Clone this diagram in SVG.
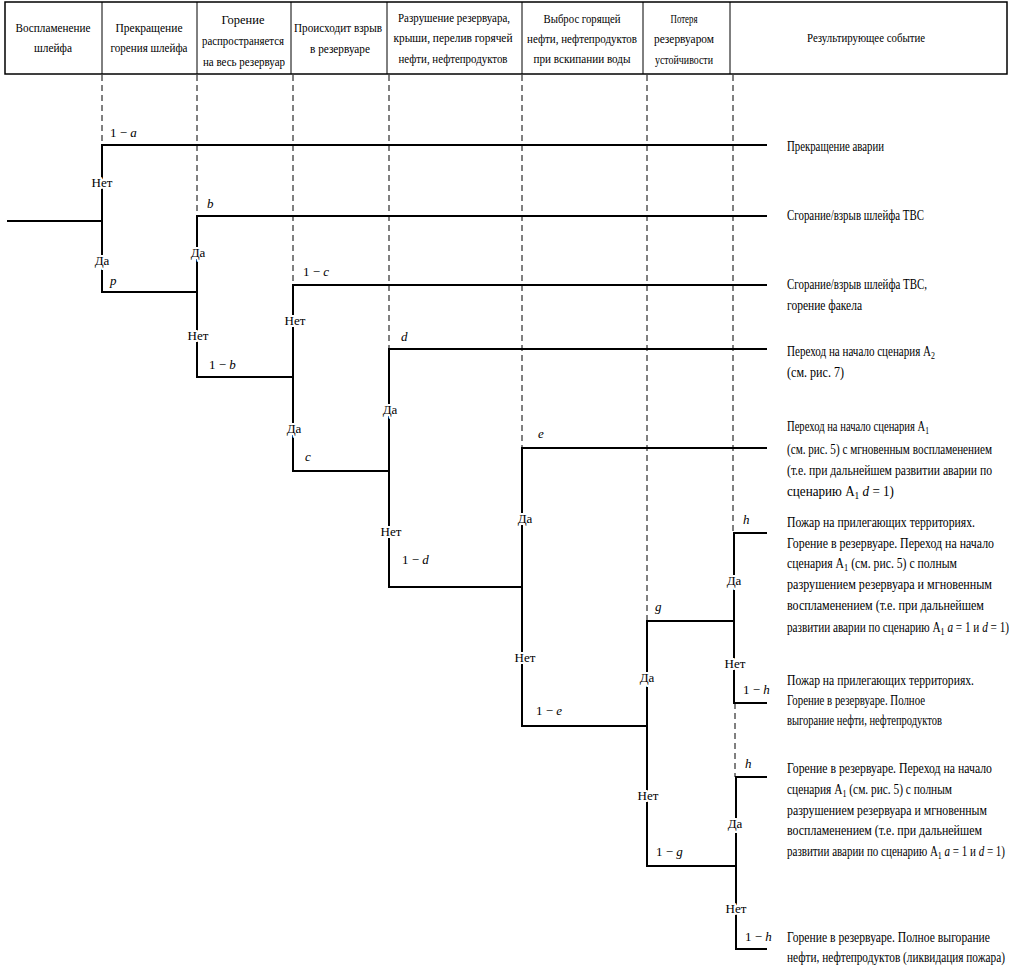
<svg xmlns="http://www.w3.org/2000/svg" width="1009" height="968" viewBox="0 0 1009 968">
<style>
text{font-family:"Liberation Serif","Times New Roman",serif;fill:#000}
.h{font-size:13px;text-anchor:middle}
.o{font-size:14px}
.lb{font-size:13px;stroke:#fff;stroke-width:4px;paint-order:stroke;stroke-linejoin:round}
.m{text-anchor:middle}
.i{font-style:italic}
.ln{stroke:#000;stroke-width:2;fill:none}
.ds{stroke:#000;stroke-width:1;stroke-dasharray:6 4;fill:none}
.hb{stroke:#000;stroke-width:1.5;fill:none}
.hd{stroke:#000;stroke-width:1;fill:none}
</style>
<rect width="1009" height="968" fill="#fff"/>
<g id="header">
<rect class="hb" x="5" y="2" width="1002" height="72"/>
<path class="hd" d="M102,2V74M197,2V74M291,2V74M387,2V74M522,2V74M643,2V74M730,2V74"/>
<g id="h1"><text class="h" x="53" y="32" textLength="75" lengthAdjust="spacingAndGlyphs">Воспламенение</text><text class="h" x="53" y="52" textLength="38" lengthAdjust="spacingAndGlyphs">шлейфа</text></g>
<g id="h2"><text class="h" x="149" y="32" textLength="67" lengthAdjust="spacingAndGlyphs">Прекращение</text><text class="h" x="149" y="52" textLength="77" lengthAdjust="spacingAndGlyphs">горения шлейфа</text></g>
<g id="h3"><text class="h" x="243" y="24" textLength="43" lengthAdjust="spacingAndGlyphs">Горение</text><text class="h" x="243" y="45" textLength="82" lengthAdjust="spacingAndGlyphs">распространяется</text><text class="h" x="244" y="66" textLength="82" lengthAdjust="spacingAndGlyphs">на весь резервуар</text></g>
<g id="h4"><text class="h" x="338" y="32" textLength="88" lengthAdjust="spacingAndGlyphs">Происходит взрыв</text><text class="h" x="340" y="53" textLength="60" lengthAdjust="spacingAndGlyphs">в резервуаре</text></g>
<g id="h5"><text class="h" x="454" y="22" textLength="112" lengthAdjust="spacingAndGlyphs">Разрушение резервуара,</text><text class="h" x="453" y="42" textLength="119" lengthAdjust="spacingAndGlyphs">крыши, перелив горячей</text><text class="h" x="453" y="63" textLength="109" lengthAdjust="spacingAndGlyphs">нефти, нефтепродуктов</text></g>
<g id="h6"><text class="h" x="582" y="23" textLength="77" lengthAdjust="spacingAndGlyphs">Выброс горящей</text><text class="h" x="582" y="43" textLength="110" lengthAdjust="spacingAndGlyphs">нефти, нефтепродуктов</text><text class="h" x="582" y="63" textLength="97" lengthAdjust="spacingAndGlyphs">при вскипании воды</text></g>
<g id="h7"><text class="h" x="684" y="23" textLength="27" lengthAdjust="spacingAndGlyphs">Потеря</text><text class="h" x="684" y="43" textLength="60" lengthAdjust="spacingAndGlyphs">резервуаром</text><text class="h" x="684" y="64" textLength="58" lengthAdjust="spacingAndGlyphs">устойчивости</text></g>
<g id="h8"><text class="h" x="866" y="42" textLength="118" lengthAdjust="spacingAndGlyphs">Результирующее событие</text></g>
</g>
<g id="connectors">
<path class="ds" d="M102,75V145M197,75V216M293,75V285M389,75V349M522,75V448M647,75V621M733,75V533M735,703V777"/>
<path class="ln" d="M7,221H102"/>
<path class="ln" d="M767,145H102V292H197"/>
<path class="ln" d="M767,216H197V377H293"/>
<path class="ln" d="M767,285H293V471H389"/>
<path class="ln" d="M767,349H389V587H522"/>
<path class="ln" d="M767,448H522V726H647"/>
<path class="ln" d="M734,621H647V866H736"/>
<path class="ln" d="M767,533H734V703H767"/>
<path class="ln" d="M767,777H736V949H767"/>
</g>
<g id="n1"><text class="lb" x="110" y="137">1 − <tspan class="i">a</tspan></text><text class="lb m" x="102" y="187">Нет</text><text class="lb m" x="102" y="265">Да</text><text class="lb i" x="110" y="285">p</text></g>
<g id="n2"><text class="lb i" x="207" y="208">b</text><text class="lb m" x="198" y="257">Да</text><text class="lb m" x="198" y="340">Нет</text><text class="lb" x="209" y="369">1 − <tspan class="i">b</tspan></text></g>
<g id="n3"><text class="lb" x="303" y="276">1 − <tspan class="i">c</tspan></text><text class="lb m" x="295" y="325">Нет</text><text class="lb m" x="294" y="433">Да</text><text class="lb i" x="305" y="461">c</text></g>
<g id="n4"><text class="lb i" x="401" y="341">d</text><text class="lb m" x="390" y="414">Да</text><text class="lb m" x="391" y="536">Нет</text><text class="lb" x="402" y="564">1 − <tspan class="i">d</tspan></text></g>
<g id="n5"><text class="lb i" x="538" y="438">e</text><text class="lb m" x="525" y="523">Да</text><text class="lb m" x="525" y="662">Нет</text><text class="lb" x="536" y="715">1 − <tspan class="i">e</tspan></text></g>
<g id="n6"><text class="lb i" x="655" y="611">g</text><text class="lb m" x="647" y="682">Да</text><text class="lb m" x="648" y="800">Нет</text><text class="lb" x="656" y="856">1 − <tspan class="i">g</tspan></text></g>
<g id="n7a"><text class="lb i" x="743" y="524">h</text><text class="lb m" x="734" y="585">Да</text><text class="lb m" x="735" y="668">Нет</text><text class="lb" x="743" y="694">1 − <tspan class="i">h</tspan></text></g>
<g id="n7b"><text class="lb i" x="745" y="768">h</text><text class="lb m" x="735" y="828">Да</text><text class="lb m" x="736" y="913">Нет</text><text class="lb" x="745" y="941">1 − <tspan class="i">h</tspan></text></g>
<g id="o1"><text class="o" x="787" y="151" textLength="97" lengthAdjust="spacingAndGlyphs">Прекращение аварии</text></g>
<g id="o2"><text class="o" x="787" y="220" textLength="137" lengthAdjust="spacingAndGlyphs">Сгорание/взрыв шлейфа ТВС</text></g>
<g id="o3"><text class="o" x="787" y="289" textLength="140" lengthAdjust="spacingAndGlyphs">Сгорание/взрыв шлейфа ТВС,</text><text class="o" x="787" y="310" textLength="75" lengthAdjust="spacingAndGlyphs">горение факела</text></g>
<g id="o4"><text class="o" x="787" y="356" textLength="148" lengthAdjust="spacingAndGlyphs">Переход на начало сценария A<tspan dy="3" font-size="10">2</tspan></text><text class="o" x="787" y="377" textLength="57" lengthAdjust="spacingAndGlyphs">(см. рис. 7)</text></g>
<g id="o5"><text class="o" x="787" y="431" textLength="142" lengthAdjust="spacingAndGlyphs">Переход на начало сценария A<tspan dy="3" font-size="10">1</tspan></text><text class="o" x="787" y="454" textLength="205" lengthAdjust="spacingAndGlyphs">(см. рис. 5) с мгновенным воспламенением</text><text class="o" x="787" y="475" textLength="205" lengthAdjust="spacingAndGlyphs">(т.е. при дальнейшем развитии аварии по</text><text class="o" x="787" y="496" textLength="107" lengthAdjust="spacingAndGlyphs">сценарию A<tspan dy="3" font-size="10">1</tspan><tspan dy="-3"> </tspan><tspan class="i">d</tspan> = 1)</text></g>
<g id="o6"><text class="o" x="787" y="527" textLength="188" lengthAdjust="spacingAndGlyphs">Пожар на прилегающих территориях.</text><text class="o" x="787" y="548" textLength="207" lengthAdjust="spacingAndGlyphs">Горение в резервуаре. Переход на начало</text><text class="o" x="787" y="568" textLength="170" lengthAdjust="spacingAndGlyphs">сценария A<tspan dy="3" font-size="10">1</tspan><tspan dy="-3"> (см. рис. 5) с полным</tspan></text><text class="o" x="787" y="589" textLength="205" lengthAdjust="spacingAndGlyphs">разрушением резервуара и мгновенным</text><text class="o" x="787" y="610" textLength="197" lengthAdjust="spacingAndGlyphs">воспламенением (т.е. при дальнейшем</text><text class="o" x="787" y="632" textLength="222" lengthAdjust="spacingAndGlyphs">развитии аварии по сценарию A<tspan dy="3" font-size="10">1</tspan><tspan dy="-3"> </tspan><tspan class="i">a</tspan> = 1 и <tspan class="i">d</tspan> = 1)</text></g>
<g id="o7"><text class="o" x="787" y="685" textLength="187" lengthAdjust="spacingAndGlyphs">Пожар на прилегающих территориях.</text><text class="o" x="787" y="705" textLength="138" lengthAdjust="spacingAndGlyphs">Горение в резервуаре. Полное</text><text class="o" x="787" y="725" textLength="155" lengthAdjust="spacingAndGlyphs">выгорание нефти, нефтепродуктов</text></g>
<g id="o8"><text class="o" x="787" y="773" textLength="205" lengthAdjust="spacingAndGlyphs">Горение в резервуаре. Переход на начало</text><text class="o" x="787" y="794" textLength="165" lengthAdjust="spacingAndGlyphs">сценария A<tspan dy="3" font-size="10">1</tspan><tspan dy="-3"> (см. рис. 5) с полным</tspan></text><text class="o" x="787" y="815" textLength="200" lengthAdjust="spacingAndGlyphs">разрушением резервуара и мгновенным</text><text class="o" x="787" y="835" textLength="195" lengthAdjust="spacingAndGlyphs">воспламенением (т.е. при дальнейшем</text><text class="o" x="787" y="856" textLength="218" lengthAdjust="spacingAndGlyphs">развитии аварии по сценарию A<tspan dy="3" font-size="10">1</tspan><tspan dy="-3"> </tspan><tspan class="i">a</tspan> = 1 и <tspan class="i">d</tspan> = 1)</text></g>
<g id="o9"><text class="o" x="787" y="942" textLength="203" lengthAdjust="spacingAndGlyphs">Горение в резервуаре. Полное выгорание</text><text class="o" x="787" y="962" textLength="218" lengthAdjust="spacingAndGlyphs">нефти, нефтепродуктов (ликвидация пожара)</text></g>
</svg>
